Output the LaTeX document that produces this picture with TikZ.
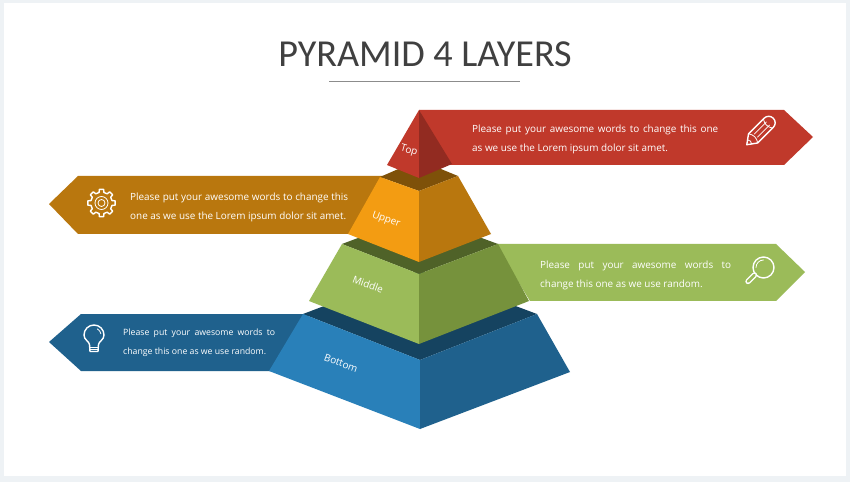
\documentclass[tikz,border=0pt]{standalone}
\usepackage{fontspec}
\setmainfont{Open Sans}
\newfontfamily\titlefont{Carlito}
\definecolor{pagebg}{HTML}{EEF2F5}
\definecolor{redA}{HTML}{C0392B}
\definecolor{redB}{HTML}{922B21}
\definecolor{orA}{HTML}{F39C12}
\definecolor{orB}{HTML}{B9770E}
\definecolor{orC}{HTML}{7E5109}
\definecolor{grA}{HTML}{9BBB59}
\definecolor{grB}{HTML}{76923C}
\definecolor{grC}{HTML}{4F6228}
\definecolor{blA}{HTML}{2980B9}
\definecolor{blB}{HTML}{1F618D}
\definecolor{blC}{HTML}{154360}
\tikzset{
  bodytext/.style={text=white,inner sep=0pt,anchor=north west,align=left,font=\fontsize{9.95}{19}\selectfont},
  smalltext/.style={bodytext,font=\fontsize{8.75}{18.5}\selectfont},
  layerlabel/.style={text=white,inner sep=0pt,font=\fontsize{10}{12}\selectfont},
  iconline/.style={draw=white,line width=1.4pt,line cap=round,line join=round},
  iconthin/.style={draw=white,line width=0.8pt,line cap=round,line join=round}
}
\begin{document}
\begin{tikzpicture}[x=1bp,y=-1bp]
\useasboundingbox (0,0) rectangle (850,482);
\fill[pagebg] (0,0) rectangle (850,482);
\fill[white] (4,3) rectangle (846,476);
% title
\node[inner sep=0pt,text=black!75,font=\titlefont\fontsize{38.3}{42}\selectfont] (title) at (425,54) {PYRAMID 4 LAYERS};
\draw[black!45,line width=1pt] (329,81.5) -- (520,81.5);
% bottom layer
\fill[blB] (49,342) -- (81,314) -- (310,314) -- (275,371) -- (81,371) -- cycle;
\fill[blC] (303,314) -- (419,270) -- (537,314) -- (420,360) -- cycle;
\fill[blA] (303,314) -- (420,360) -- (420,429) -- (269,371) -- cycle;
\fill[blB] (420,360) -- (537,314) -- (570,372) -- (420,429) -- cycle;
% middle layer
\fill[grA] (530,301) -- (776,301) -- (805,272) -- (776,244) -- (495,244) -- cycle;
\fill[grC] (342,244) -- (419,215) -- (498,244) -- (419,274) -- cycle;
\fill[grA] (342,244) -- (419,274) -- (419,344) -- (309,301) -- cycle;
\fill[grB] (419,274) -- (498,244) -- (529,301) -- (419,344) -- cycle;
% upper layer
\fill[orB] (49,204) -- (78,176) -- (385,176) -- (350,234) -- (78,234) -- cycle;
\fill[orC] (380,177) -- (419,160) -- (458,176) -- (419,191) -- cycle;
\fill[orA] (380,177) -- (419,191) -- (419,262) -- (348,234) -- cycle;
\fill[orB] (419,191) -- (458,176) -- (491,234) -- (419,262) -- cycle;
% top layer
\fill[redA] (419,110) -- (784,110) -- (813,137) -- (784,165) -- (445,165) -- cycle;
\fill[redA] (419,110) -- (419,178) -- (387,165) -- cycle;
\fill[redB] (419,110) -- (452,164) -- (419,178) -- cycle;
% layer labels
\node[layerlabel,rotate=-16] (ltop) at (409,151) {Top};
\node[layerlabel,rotate=-20] (lupper) at (386,220) {Upper};
\node[layerlabel,rotate=-20] (lmiddle) at (368,284) {Middle};
\node[layerlabel,rotate=-20] (lbottom) at (341,363) {Bottom};
% texts
\node[bodytext] (t1) at (472,125) {\makebox[246bp][s]{Please put your awesome words to change this one}\\as we use the Lorem ipsum dolor sit amet.};
\node[bodytext] (t2) at (130,193) {\makebox[218bp][s]{Please put your awesome words to change this}\\one as we use the Lorem ipsum dolor sit amet.};
\node[bodytext] (t3) at (540,261) {\makebox[191bp][s]{Please put your awesome words to}\\change this one as we use random.};
\node[smalltext] (t4) at (123,329) {\makebox[152bp][s]{Please put your awesome words to}\\change this one as we use random.};
% pencil
\begin{scope}[shift={(759.5,132)},rotate=45]
  \draw[iconline] (-18,0) -- (-9,-6.5) -- (13,-6.5) arc[start angle=-90,end angle=90,radius=6.5] -- (-9,6.5) -- cycle;
  \draw[iconthin] (-9,-6.5) .. controls (-6,-2) and (-6,2) .. (-9,6.5);
  \draw[iconthin] (-5,-2.2) -- (12,-2.2) (-5,2.2) -- (12,2.2);
  \draw[iconthin] (12,-6.5) .. controls (9,-2) and (9,2) .. (12,6.5);
  \draw[iconthin] (-14,-3) .. controls (-12.5,-1) and (-12.5,1) .. (-14,3);
\end{scope}
% gear
\begin{scope}[shift={(101.5,203)}]
  \draw[iconline] (-13:10.8) \foreach \a in {0,45,...,315} {
     -- (\a-9:13.8) -- (\a+9:13.8) -- (\a+13:10.8)
     arc[start angle=\a+13,end angle=\a+32,radius=10.8]
  } -- cycle;
  \draw[iconthin] (0,0) circle[radius=6.5];
  \draw[iconthin] (0,0) circle[radius=3.5];
\end{scope}
% magnifier
\begin{scope}[shift={(763.5,267.5)}]
  \draw[iconline] (0,0) circle[radius=10.5];
  \draw[iconthin] (-7.5,0) arc[start angle=180,end angle=270,radius=7.5];
  \draw[white,line width=5.4pt,line cap=round] (-9,7.5) -- (-15.5,14);
  \draw[grA,line width=2.8pt,line cap=round] (-9,7.5) -- (-15.5,14);
\end{scope}
% bulb
\begin{scope}[shift={(94,336)}]
  \draw[iconline] (-4.5,8.5) .. controls (-5,5) and (-10,4) .. (-10,-1) arc[start angle=180,end angle=360,radius=10] .. controls (10,4) and (5,5) .. (4.5,8.5) -- (4,15.5) -- (-4,15.5) -- cycle;
  \draw[iconthin] (-4.5,11) -- (4.5,11) (-4,13.2) -- (4,13.2);
  \draw[iconthin] (3.5,-7) arc[start angle=-60,end angle=-10,radius=7];
\end{scope}
\end{tikzpicture}
\end{document}
